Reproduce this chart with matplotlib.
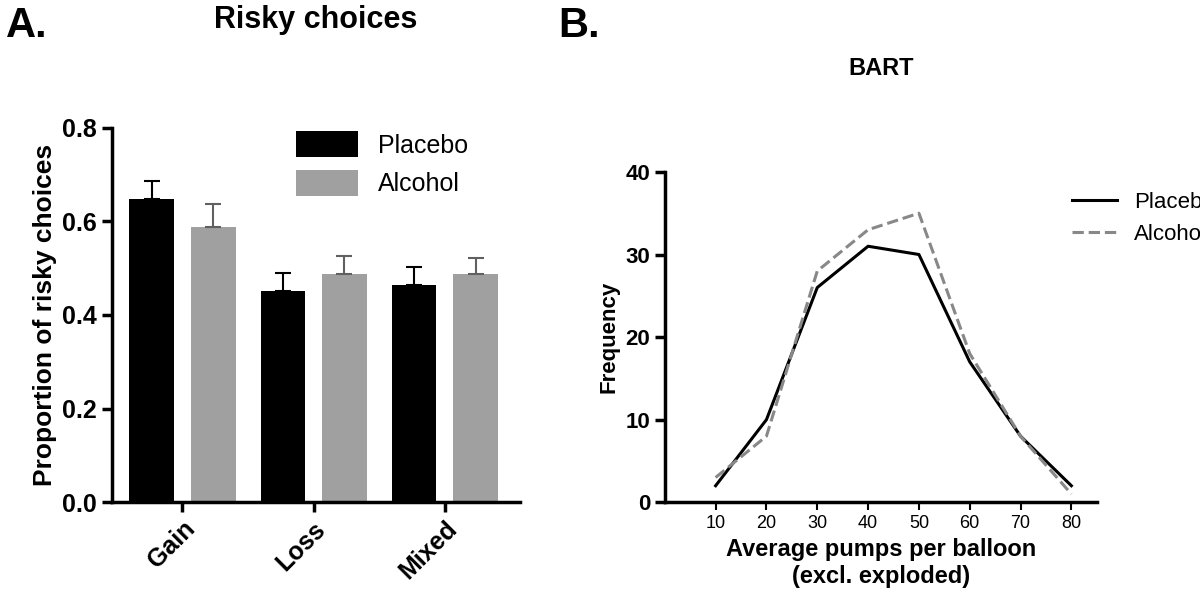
import matplotlib
matplotlib.use('Agg')
import matplotlib.pyplot as plt
import numpy as np

plt.rcParams['font.family'] = ['Liberation Sans', 'DejaVu Sans']

conds = ['Gain', 'Loss', 'Mixed']
placebo_mean = [0.648, 0.452, 0.465]
placebo_err = [0.038, 0.038, 0.038]
alcohol_mean = [0.588, 0.488, 0.487]
alcohol_err = [0.048, 0.037, 0.035]

pumps = [10, 20, 30, 40, 50, 60, 70, 80]
freq_placebo = [2, 10, 26, 31, 30, 17, 8, 2]
freq_alcohol = [3, 8, 28, 33, 35, 18, 8, 1]

fig = plt.figure(figsize=(12, 6.14), dpi=100)

# A. bar chart
ax1 = fig.add_axes([0.093, 0.182, 0.34, 0.61])
x = np.arange(len(conds)) * 1.0
w = 0.34
off = w / 2 + 0.065
ax1.bar(x - off, placebo_mean, w, color='black', label='Placebo',
        yerr=[[0] * 3, placebo_err], error_kw=dict(ecolor='black', capsize=6, elinewidth=1.5, capthick=1.5))
ax1.bar(x + off, alcohol_mean, w, color='#a0a0a0', label='Alcohol',
        yerr=[[0] * 3, alcohol_err], error_kw=dict(ecolor='#606060', capsize=6, elinewidth=1.5, capthick=1.5))
ax1.set_xlim(-0.54, 2.57)
ax1.set_ylim(0, 0.8)
ax1.set_yticks([0, 0.2, 0.4, 0.6, 0.8])
ax1.set_yticklabels(['0.0', '0.2', '0.4', '0.6', '0.8'])
ax1.set_xticks(x)
ax1.set_xticklabels(conds, rotation=45, ha='right', rotation_mode='anchor')
ax1.set_ylabel('Proportion of risky choices', fontsize=19, fontweight='bold')
ax1.set_title('Risky choices', fontsize=22, fontweight='bold', pad=72)
ax1.legend(frameon=False, fontsize=18, loc='upper right', bbox_to_anchor=(0.93, 1.05),
           handlelength=2.5, handleheight=1.2)

# B. line chart
ax2 = fig.add_axes([0.554, 0.182, 0.36, 0.538])
ax2.plot(pumps, freq_placebo, color='black', lw=2.2, label='Placebo')
ax2.plot(pumps, freq_alcohol, color='#888888', lw=2.2, ls='--', label='Alcohol')
ax2.set_xlim(0, 85)
ax2.set_ylim(0, 40)
ax2.set_xticks(pumps)
ax2.set_yticks([0, 10, 20, 30, 40])
ax2.set_ylabel('Frequency', fontsize=16, fontweight='bold')
ax2.set_xlabel('Average pumps per balloon\n(excl. exploded)', fontsize=17, fontweight='bold')
ax2.set_title('BART', fontsize=17, fontweight='bold', pad=70)
ax2.legend(frameon=False, fontsize=16, loc='upper right', bbox_to_anchor=(1.32, 1.0))

for ax in (ax1, ax2):
    for s in ('top', 'right'):
        ax.spines[s].set_visible(False)
    for s in ('left', 'bottom'):
        ax.spines[s].set_linewidth(2.5)
    ax.tick_params(width=2.5, length=7)
for lab in ax1.get_xticklabels() + ax1.get_yticklabels():
    lab.set_fontsize(18)
    lab.set_fontweight('bold')
for lab in ax2.get_xticklabels():
    lab.set_fontsize(13)
for lab in ax2.get_yticklabels():
    lab.set_fontsize(16)
    lab.set_fontweight('bold')
ax2.tick_params(axis='x', length=6, width=1.5)

fig.text(0.005, 0.94, 'A.', fontsize=30, fontweight='bold')
fig.text(0.465, 0.94, 'B.', fontsize=30, fontweight='bold')

fig.savefig('out.png', dpi=100)
